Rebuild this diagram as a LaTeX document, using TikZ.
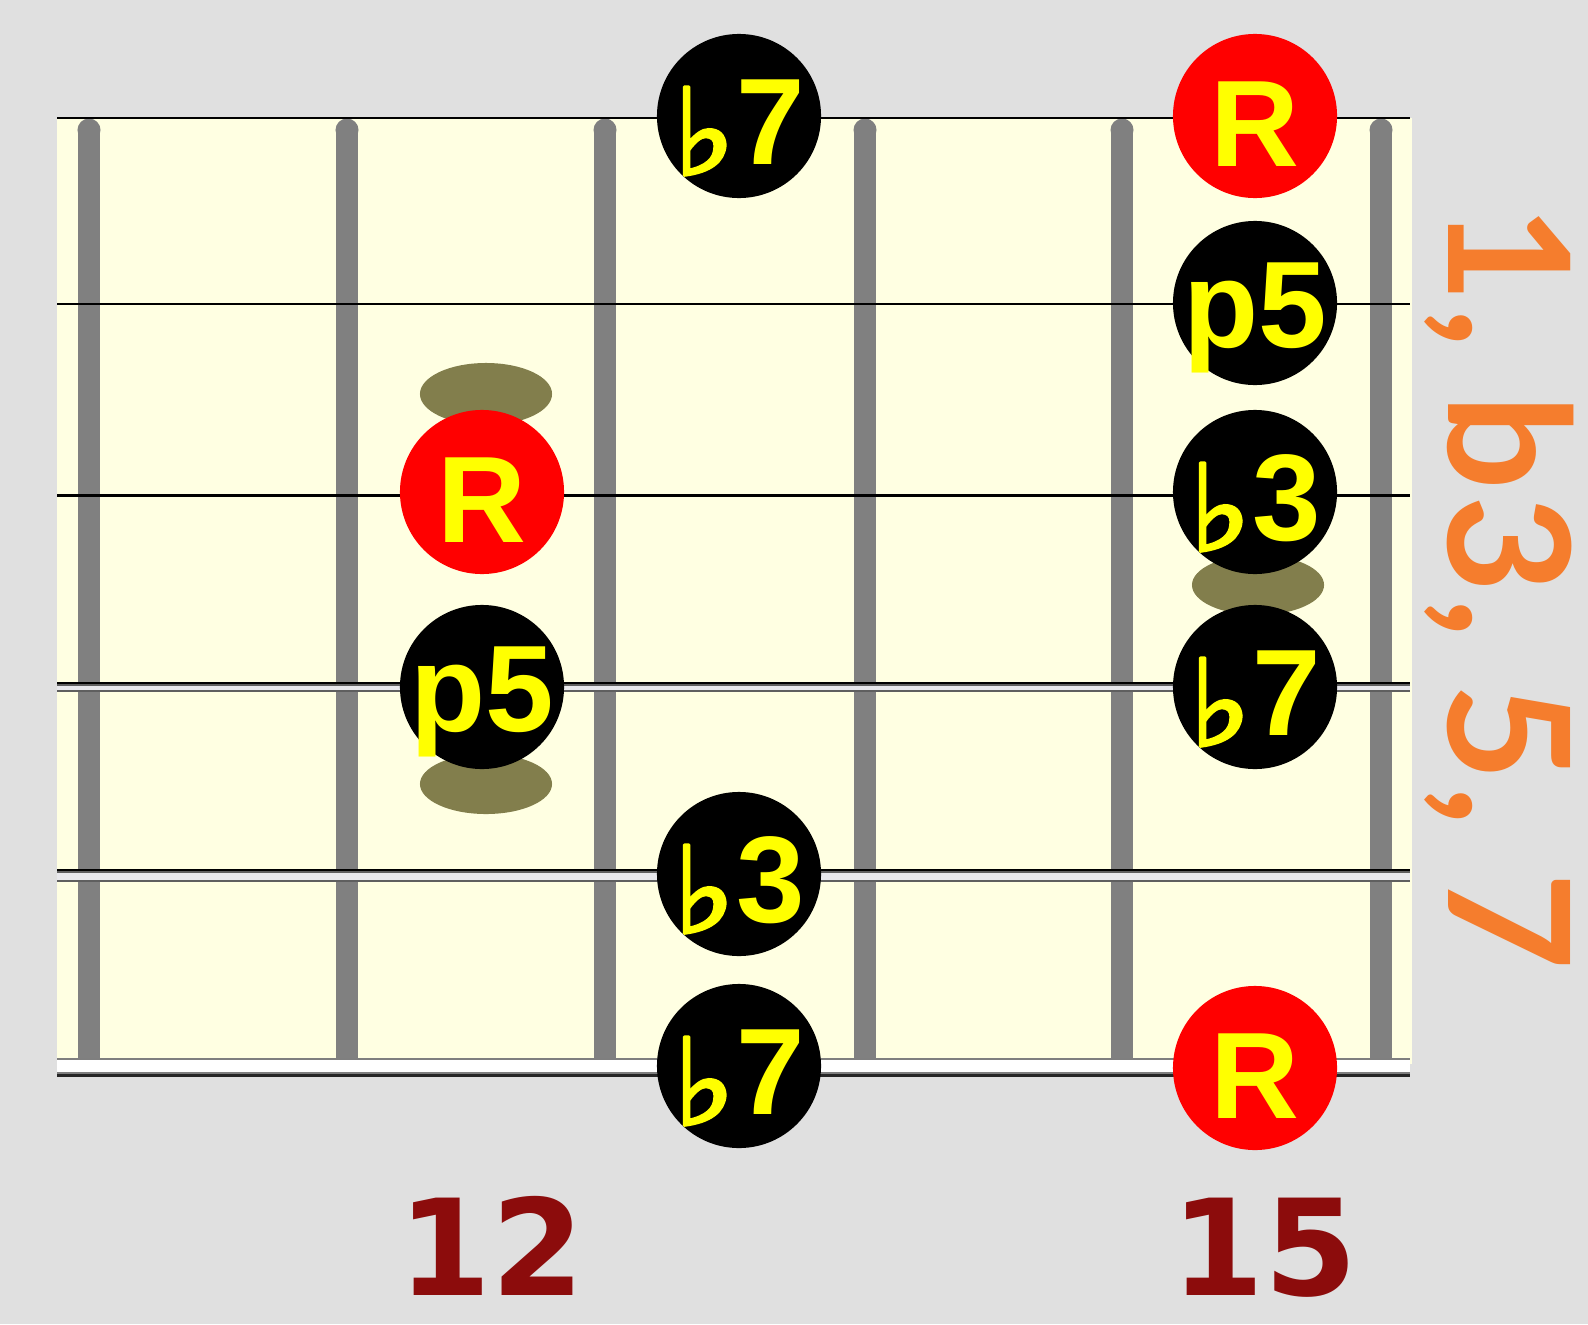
\documentclass[tikz,border=0pt]{standalone}
\usepackage{fontspec}
\setmainfont{Liberation Sans}
\newfontfamily\flatfont[FakeBold=3]{DejaVu Sans}
\newfontfamily\fretfont{DejaVu Sans}
\newfontfamily\handfont[LetterSpace=3]{Lato}
\definecolor{bg}{RGB}{224,224,224}
\definecolor{cream}{RGB}{255,255,226}
\definecolor{fretgray}{RGB}{128,128,128}
\definecolor{olive}{RGB}{130,126,76}
\definecolor{noteyellow}{RGB}{255,255,0}
\definecolor{rootred}{RGB}{255,0,0}
\definecolor{fretnum}{RGB}{140,12,12}
\definecolor{handorange}{RGB}{245,125,45}
\definecolor{wound}{RGB}{95,95,95}
\definecolor{woundlight}{RGB}{232,232,236}
\newcommand{\notesize}{\fontsize{35}{40}\selectfont\bfseries}
\newcommand{\fl}{\raisebox{-3pt}{\scalebox{1.1}[1.0]{\mdseries\flatfont\fontsize{34}{40}\selectfont ♭}}\hspace{0.3pt}}
\tikzset{
  note/.style={circle, minimum size=1.64cm, inner sep=0pt, fill=black},
  rootnote/.style={note, fill=rootred},
  lbl/.style={anchor=base, inner sep=0pt, text=noteyellow, font=\notesize},
  fing/.style={fill=olive},
  fretbar/.style={line width=6.5pt, draw=fretgray},
  thinstring/.style={line width=0.85pt, draw=black},
  fretlbl/.style={anchor=base, inner sep=0pt, text=fretnum, font=\fretfont\bfseries\fontsize{38}{44}\selectfont},
}
\begin{document}
\begin{tikzpicture}[x=0.01cm, y=-0.01cm]
\useasboundingbox (0,0) rectangle (1588,1324);
\fill[bg] (0,0) rectangle (1588,1324);
% fretboard
\fill[cream] (57,118) rectangle (1412,1064);
% frets
\foreach \fx in {89,347,605,865,1122,1381}{
  \draw[fretbar] (\fx,130) -- (\fx,1058);
  \fill[fretgray] (\fx,130) circle[radius=0.115cm];
}
% strings
\draw[thinstring] (57,118) -- (1410,118);
\draw[thinstring] (57,304) -- (1410,304);
\draw[thinstring] (57,495) -- (1410,495);
\draw[line width=2.8pt, draw=wound] (57,687.5) -- (1410,687.5);
\draw[line width=1.2pt, draw=woundlight] (57,688) -- (1410,688);
\draw[line width=0.6pt, draw=black] (57,683) -- (1410,683);
\draw[line width=3.6pt, draw=wound] (57,876) -- (1410,876);
\draw[line width=1.9pt, draw=woundlight] (57,876.5) -- (1410,876.5);
\draw[line width=0.6pt, draw=black] (57,870) -- (1410,870);
\draw[line width=5.2pt, draw=wound!80] (57,1067) -- (1410,1067);
\draw[line width=3.4pt, draw=white] (57,1066) -- (1410,1066);
\draw[line width=0.9pt, draw=black!85] (57,1075.5) -- (1410,1075.5);
% muted finger shadows
\fill[fing] (486,394) ellipse [x radius=0.66cm, y radius=0.31cm];
\fill[fing] (486,784) ellipse [x radius=0.66cm, y radius=0.30cm];
\fill[fing] (1258,585) ellipse [x radius=0.66cm, y radius=0.30cm];
% notes
\node[note] (n1) at (739,116) {};
\node[rootnote] (n2) at (1255,116) {};
\node[note] (n3) at (1255,303) {};
\node[note] (n4) at (1255,492) {};
\node[note] (n5) at (1255,687) {};
\node[rootnote] (n6) at (482,492) {};
\node[note] (n7) at (482,687) {};
\node[note] (n8) at (739,874) {};
\node[note] (n9) at (739,1066) {};
\node[rootnote] (n10) at (1255,1068) {};
\path (n1.center) ++(0,48) node[lbl] (t1) {\fl 7};
\path (n2.center) ++(0,50) node[lbl] (t2) {R};
\path (n3.center) ++(0,44) node[lbl] (t3) {p5};
\path (n4.center) ++(0,48) node[lbl] (t4) {\fl 3};
\path (n5.center) ++(0,48) node[lbl] (t5) {\fl 7};
\path (n6.center) ++(0,50) node[lbl] (t6) {R};
\path (n7.center) ++(0,44) node[lbl] (t7) {p5};
\path (n8.center) ++(0,48) node[lbl] (t8) {\fl 3};
\path (n9.center) ++(0,48) node[lbl] (t9) {\fl 7};
\path (n10.center) ++(0,50) node[lbl] (t10) {R};
% fret numbers
\node[fretlbl] (f12) at (491,1295) {12};
\node[fretlbl] (f15) at (1264,1295) {15};
% handwritten formula
\node[rotate=-90, anchor=base west, inner sep=0pt, text=handorange, font=\handfont\bfseries\fontsize{48}{54}\selectfont] (formula) at (1448,205) {1, b3, 5, 7};
\end{tikzpicture}
\end{document}
